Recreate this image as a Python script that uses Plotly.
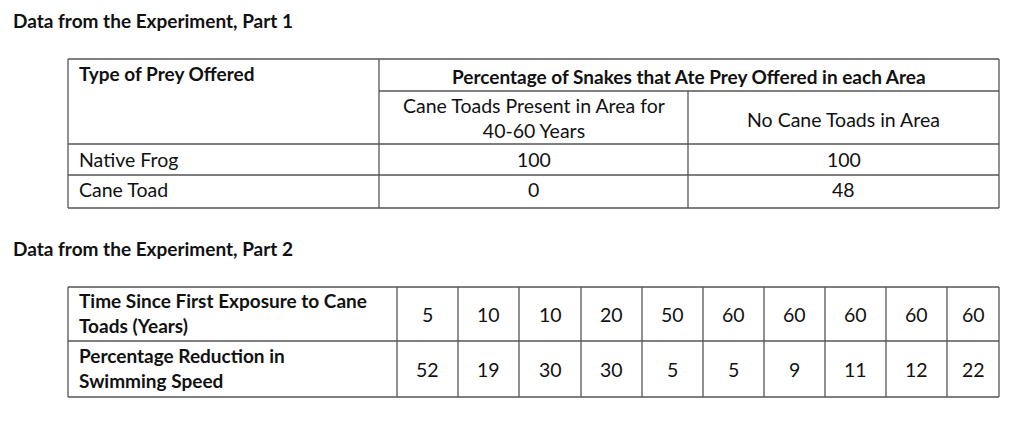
import plotly.graph_objects as go

# ---- data ----
part1_title = "Data from the Experiment, Part 1"
part2_title = "Data from the Experiment, Part 2"
prey_types = ["Native Frog", "Cane Toad"]
pct_toads_present = [100, 0]
pct_no_toads = [100, 48]
years_exposed = [5, 10, 10, 20, 50, 60, 60, 60, 60, 60]
speed_reduction = [52, 19, 30, 30, 5, 5, 9, 11, 12, 22]

FONT = "Lato, 'Open Sans', sans-serif"
LC = "#555555"
TC = "#111111"
FS = 19.5
BFS = 19

shapes = []
ann = []

def line(x0, y0, x1, y1):
    shapes.append(dict(type="line", xref="x", yref="y", x0=x0, y0=y0, x1=x1, y1=y1,
                       line=dict(color=LC, width=1.3)))

def text(x, y, s, bold=False, align="center", size=FS):
    if bold:
        s = "<b>" + s + "</b>"
    ann.append(dict(x=x, y=y, xref="x", yref="y", text=s, showarrow=False,
                    xanchor={"left": "left", "center": "center"}[align], yanchor="middle",
                    align=align, font=dict(family=FONT, size=size, color=TC)))

# Titles
text(11, 20, part1_title, bold=True, align="left", size=BFS)
text(11, 248, part2_title, bold=True, align="left", size=BFS)

# Table 1 geometry
L, R = 68, 999
T1, B1 = 59, 208
c1, c2 = 379, 688
hdr, sub, mid = 91, 144, 175
for y in (T1, sub, mid, B1):
    line(L, y, R, y)
line(c1, hdr, R, hdr)
for x in (L, c1, R):
    line(x, T1, x, B1)
line(c2, hdr, c2, B1)

text(77, 73, "Type of Prey Offered", bold=True, align="left", size=BFS)
text((c1 + R) / 2, 76, "Percentage of Snakes that Ate Prey Offered in each Area", bold=True, size=BFS)
text((c1 + c2) / 2, 118, "Cane Toads Present in Area for<br>40-60 Years")
text((c2 + R) / 2, 119, "No Cane Toads in Area")
rows_y = [159, 189]
for i, p in enumerate(prey_types):
    text(77, rows_y[i], p, align="left")
    text((c1 + c2) / 2, rows_y[i], str(pct_toads_present[i]))
    text((c2 + R) / 2, rows_y[i], str(pct_no_toads[i]))

# Table 2 geometry
T2, M2, B2 = 287, 341, 397
cols = [397, 458, 519, 581, 642, 703, 764, 825, 886, 947, 999]
for y in (T2, M2, B2):
    line(L, y, R, y)
for x in [L] + cols:
    line(x, T2, x, B2)
text(77, 313, "Time Since First Exposure to Cane<br>Toads (Years)", bold=True, align="left", size=BFS)
text(77, 368, "Percentage Reduction in<br>Swimming Speed", bold=True, align="left", size=BFS)
for i in range(len(years_exposed)):
    cx = (cols[i] + cols[i + 1]) / 2
    text(cx, 314, str(years_exposed[i]))
    text(cx, 369, str(speed_reduction[i]))

fig = go.Figure()
fig.update_layout(width=1024, height=421, margin=dict(l=0, r=0, t=0, b=0),
                  paper_bgcolor="white", plot_bgcolor="white",
                  xaxis=dict(range=[8, 1032], visible=False, fixedrange=True),
                  yaxis=dict(range=[429, 8], visible=False, fixedrange=True),
                  shapes=shapes, annotations=ann, showlegend=False)
fig.write_html("out.html")
